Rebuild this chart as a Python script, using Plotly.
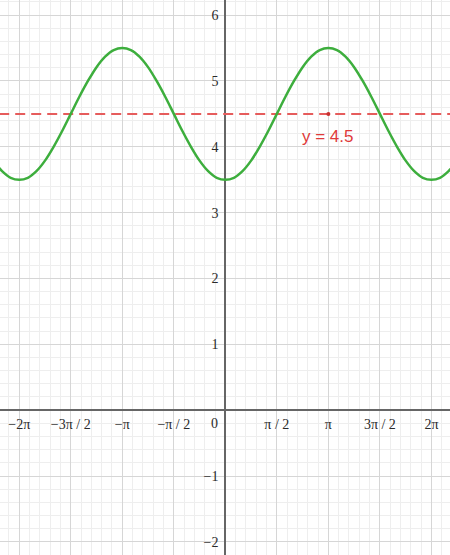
"""y = 4.5 - cos(x) against the line y = 4.5, drawn on a GeoGebra-style grid."""

import math

import plotly.graph_objects as go

# curve samples every pi/12, from -27pi/12 to 27pi/12
step_k = list(range(-27, 28))
curve_y = [
    3.79, 3.63, 3.53,
    3.50, 3.53, 3.63, 3.79, 4.00, 4.24, 4.50, 4.76, 5.00, 5.21, 5.37, 5.47,
    5.50, 5.47, 5.37, 5.21, 5.00, 4.76, 4.50, 4.24, 4.00, 3.79, 3.63, 3.53,
    3.50,
    3.53, 3.63, 3.79, 4.00, 4.24, 4.50, 4.76, 5.00, 5.21, 5.37, 5.47,
    5.50, 5.47, 5.37, 5.21, 5.00, 4.76, 4.50, 4.24, 4.00, 3.79, 3.63, 3.53,
    3.50, 3.53, 3.63, 3.79,
]
curve_x = [k * math.pi / 12 for k in step_k]

line_level = 4.5
line_label = "y = 4.5"

# x ticks in halves of pi
x_tick_halves = [-4, -3, -2, -1, 1, 2, 3, 4]
x_tick_text = ["−2π", "−3π / 2", "−π", "−π / 2", "π / 2", "π", "3π / 2", "2π"]
y_tick_vals = [-2, -1, 1, 2, 3, 4, 5, 6]
y_tick_text = ["−2", "−1", "1", "2", "3", "4", "5", "6"]

X_RANGE = [-6.87, 6.85]
Y_RANGE = [-2.20, 6.23]
GREEN = "#3dae3d"
RED = "#e03a3a"
TICK_COLOR = "#2a2a2a"


def tick_font():
    return {"family": "Liberation Serif", "size": 14, "color": TICK_COLOR}


fig = go.Figure()
fig.add_trace(
    go.Scatter(
        x=[X_RANGE[0] - 1, X_RANGE[1] + 1],
        y=[line_level, line_level],
        mode="lines",
        line={"color": "#e65c5c", "width": 2, "dash": "10px,6px"},
        hoverinfo="skip",
    )
)
fig.add_trace(
    go.Scatter(
        x=curve_x,
        y=curve_y,
        mode="lines",
        line={"color": GREEN, "width": 2.5, "shape": "spline", "smoothing": 1.0},
    )
)
fig.add_trace(
    go.Scatter(
        x=[math.pi],
        y=[line_level],
        mode="markers",
        marker={"color": "#c83030", "size": 4},
        hoverinfo="skip",
    )
)

fig.add_annotation(
    x=3.13, y=4.15, text=line_label, showarrow=False,
    font={"family": "Liberation Sans", "size": 17, "color": RED},
)
# origin label sits below-left of the crossing
fig.add_annotation(
    x=0, y=0, text="0", showarrow=False, xanchor="right", yanchor="top",
    xshift=-5, yshift=-4, font=tick_font(),
)

fig.update_layout(
    width=450,
    height=555,
    margin={"l": 0, "r": 0, "t": 0, "b": 0, "pad": 0},
    plot_bgcolor="white",
    paper_bgcolor="white",
    showlegend=False,
)
fig.update_xaxes(
    range=X_RANGE,
    tickvals=[h * math.pi / 2 for h in x_tick_halves],
    ticktext=x_tick_text,
    tickfont=tick_font(),
    ticks="outside",
    ticklen=1,
    tickcolor="rgba(0,0,0,0)",
    anchor="free",
    position=(0 - Y_RANGE[0]) / (Y_RANGE[1] - Y_RANGE[0]),
    automargin=False,
    showgrid=True,
    gridcolor="#d6d6d6",
    gridwidth=1,
    minor={"dtick": math.pi / 10, "tick0": 0, "showgrid": True, "gridcolor": "#eeeeee"},
    zeroline=True,
    zerolinecolor="#666666",
    zerolinewidth=1.5,
    showline=False,
    fixedrange=True,
)
fig.update_yaxes(
    range=Y_RANGE,
    tickvals=y_tick_vals,
    ticktext=y_tick_text,
    tickfont=tick_font(),
    ticks="outside",
    ticklen=4,
    tickcolor="rgba(0,0,0,0)",
    anchor="free",
    position=(0 - X_RANGE[0]) / (X_RANGE[1] - X_RANGE[0]),
    automargin=False,
    showgrid=True,
    gridcolor="#d6d6d6",
    gridwidth=1,
    minor={"dtick": 0.2, "tick0": 0, "showgrid": True, "gridcolor": "#eeeeee"},
    zeroline=True,
    zerolinecolor="#666666",
    zerolinewidth=1.5,
    showline=False,
    fixedrange=True,
)

# the page's default 8px body margin would push the figure off the window edges
fig.write_html(
    "out.html",
    config={"displayModeBar": False},
    post_script="document.body.style.margin = '0';",
)
